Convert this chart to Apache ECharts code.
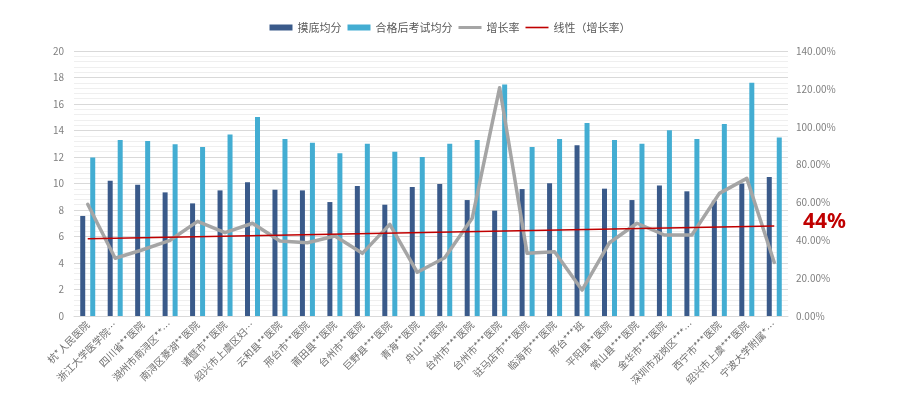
<!DOCTYPE html>
<html>
<head>
<meta charset="utf-8">
<script src="https://cdn.jsdelivr.net/npm/echarts@6/dist/echarts.min.js"></script>
<style>
  html, body { margin: 0; padding: 0; background: #fff; }
  #chart { width: 900px; height: 403px; }
</style>
</head>
<body>
<div id="chart"></div>
<script>
// 医院名称
const hospitals = [
  '杭*人民医院', '浙江大学医学院…', '四川省**医院', '湖州市南浔区**…', '南浔区菱湖**医院',
  '诸暨市**医院', '绍兴市上虞区妇…', '云和县**医院', '邢台市**医院', '莆田县**医院',
  '台州市**医院', '巨野县***医院', '青海**医院', '舟山***医院', '台州市***医院',
  '台州市***医院', '驻马店市***医院', '临海市***医院', '邢台***班', '平阳县**医院',
  '常山县***医院', '金华市***医院', '深圳市龙岗区***…', '西宁市***医院', '绍兴市上虞***医院',
  '宁波大学附属*…'
];

// 摸底均分
const baseScores = [
  7.55, 10.2, 9.9, 9.33, 8.5, 9.48, 10.1, 9.53, 9.48, 8.6,
  9.81, 8.4, 9.74, 9.96, 8.75, 7.95, 9.58, 10.01, 12.88, 9.61,
  8.75, 9.84, 9.41, 8.7, 10.0, 10.49
];

// 合格后考试均分
const passScores = [
  11.97, 13.28, 13.21, 12.96, 12.75, 13.69, 15.02, 13.36, 13.08, 12.28,
  13.0, 12.4, 12.0, 13.0, 13.28, 17.48, 12.75, 13.36, 14.57, 13.28,
  13.0, 14.01, 13.36, 14.49, 17.61, 13.48
];

// 增长率 (%)
const growthRates = [
  59.0, 30.5, 35.0, 40.0, 50.0, 44.0, 49.0, 39.6, 38.7, 42.3,
  33.1, 48.4, 23.1, 30.8, 51.6, 120.6, 33.1, 34.0, 13.7, 38.7,
  49.0, 42.8, 42.8, 64.8, 72.7, 28.3
];

// 线性趋势线的两端 (%)
const trendStart = 40.8;
const trendEnd = 47.5;
const trendLine = hospitals.map((_, i) => i === 0 ? trendStart : (i === hospitals.length - 1 ? trendEnd : null));

const chart = echarts.init(document.getElementById('chart'));

const font = 'Noto Sans CJK SC';

const option = {
  backgroundColor: '#fff',
  textStyle: { fontFamily: font },
  legend: {
    top: 17,
    left: 'center',
    itemGap: 6,
    itemWidth: 23,
    itemHeight: 6,
    textStyle: { color: '#595959', fontSize: 11, fontFamily: font },
    data: [
      { name: '摸底均分', icon: 'rect' },
      { name: '合格后考试均分', icon: 'rect' },
      { name: '增长率', icon: 'path://M0,0 L23,0 L23,3 L0,3 Z' },
      { name: '线性（增长率）', icon: 'path://M0,0 L23,0 L23,1.6 L0,1.6 Z' }
    ]
  },
  grid: {
    left: 74,
    right: 112,
    top: 51,
    bottom: 87
  },
  xAxis: {
    type: 'category',
    data: hospitals,
    axisLine: { show: true, lineStyle: { color: '#d9d9d9' } },
    axisTick: { show: false },
    axisLabel: {
      interval: 0,
      rotate: 45,
      color: '#6f6f6f',
      fontSize: 10,
      margin: 7,
      fontFamily: font
    }
  },
  yAxis: [
    {
      type: 'value',
      min: 0,
      max: 20,
      interval: 2,
      axisLine: { show: false },
      axisTick: { show: false },
      axisLabel: { color: '#7f7f7f', fontSize: 10, margin: 10 },
      splitLine: { lineStyle: { color: '#d9d9d9' } },
      minorTick: { show: false, splitNumber: 5 },
      minorSplitLine: { show: true, lineStyle: { color: '#efefef' } }
    },
    {
      type: 'value',
      min: 0,
      max: 140,
      interval: 20,
      axisLine: { show: false },
      axisTick: { show: false },
      splitLine: { show: false },
      axisLabel: {
        color: '#7f7f7f',
        fontSize: 10,
        margin: 8,
        formatter: v => v.toFixed(2) + '%'
      }
    }
  ],
  graphic: [
    {
      type: 'text',
      left: 803,
      top: 212,
      style: {
        text: '44%',
        fill: '#c00000',
        font: 'bold 21px "Noto Sans", sans-serif'
      }
    }
  ],
  series: [
    {
      name: '摸底均分',
      type: 'bar',
      data: baseScores,
      barWidth: 5,
      barGap: '100%',
      itemStyle: { color: '#3a5a8a' }
    },
    {
      name: '合格后考试均分',
      type: 'bar',
      data: passScores,
      barWidth: 5,
      itemStyle: { color: '#43add2' }
    },
    {
      name: '增长率',
      type: 'line',
      yAxisIndex: 1,
      data: growthRates,
      symbol: 'none',
      lineStyle: { color: '#a5a5a5', width: 3.5, cap: 'round', join: 'round' },
      itemStyle: { color: '#a5a5a5' },
      z: 3
    },
    {
      name: '线性（增长率）',
      type: 'line',
      yAxisIndex: 1,
      data: trendLine,
      connectNulls: true,
      symbol: 'none',
      lineStyle: { color: '#c00000', width: 1.5 },
      itemStyle: { color: '#c00000' },
      z: 4
    }
  ]
};

chart.setOption(option);
</script>
</body>
</html>
